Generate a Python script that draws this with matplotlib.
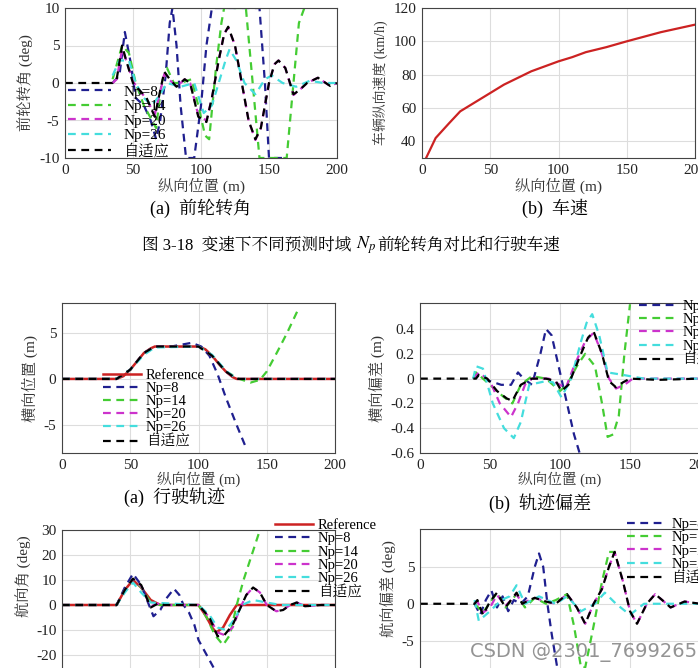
import matplotlib
matplotlib.use("Agg")
import matplotlib.pyplot as plt

plt.rcParams['font.family'] = ['Liberation Serif', 'Noto Serif CJK JP']
plt.rcParams['axes.unicode_minus'] = False
plt.rcParams['mathtext.fontset'] = 'stix'

W, H = 698, 668
labels = ['Np=8', 'Np=14', 'Np=20', 'Np=26', '自适应']
colors = ['#1f1f8f', '#44cc33', '#cc33cc', '#44dddd', '#000000']
ref_color = '#cc2222'

# ---- Panel 1: front wheel angle (deg)
p1_x8 = [35, 40, 44, 48, 52, 58, 63, 67, 70, 74, 77, 79, 82, 85, 89, 95, 100, 104, 108, 143, 147, 150, 163]
p1_y8 = [0, 1, 6.8, 3, -2, -3, -5, -7.5, -5, 1, 8, 10, 5, -3, -10, -10, -3, 5, 10, 10, 0, -10, -10]
p1_x14 = [35, 42, 47, 52, 58, 64, 67, 71, 75, 80, 85, 93, 98, 103, 106, 111, 115, 117, 133, 138, 143, 163, 168, 172, 176]
p1_y14 = [0.5, 5, 4, 0, -3, -5, -6, 0, 2, 0, 0, 0.5, -3, -7, -7.5, 2, 8, 10, 10, 0, -10, -10, 0, 8, 10]
p1_xa = [0, 35, 38, 42, 45, 50, 55, 60, 66, 70, 73, 77, 82, 88, 92, 98, 104, 108, 113, 117, 120, 125, 130, 135, 140, 144, 150, 154, 157, 162, 168, 172, 178, 186, 195, 200]
p1_ya = [0, 0, 0.5, 5, 3, 0, -1, -2, -4.5, -1, 1.5, 0.5, -0.5, 0.5, 0, -4.5, -5.2, -2, 3, 6.5, 7.5, 5, 0, -5, -7.5, -6, 0, 2.5, 3, 2, -1.5, -1, 0, 0.7, -0.4, 0]
p1_x20 = p1_xa[1:]
p1_y20 = [0, 0.5, 4.5, 3, 0.2, -1, -2.2, -4.2, -1.2, 1.2, 0.4, -0.5, 0.5, 0, -4.3, -5, -2, 3, 6.6, 7.4, 5, 0, -5, -7.6, -6, 0, 2.5, 3, 2, -1.6, -1, 0, 0.7, -0.4, 0]
p1_x26 = [35, 40, 47, 52, 58, 64, 70, 75, 85, 95, 102, 108, 113, 118, 121, 126, 132, 140, 147, 152, 160, 170, 180, 190, 200]
p1_y26 = [1, 3, 3, 0, -2, -3, -1.5, 0, -0.5, 0, -4, -3, 0, 3, 4.5, 3, 0, -1.5, 0.5, 1, 0, -0.5, 0.3, 0, 0]

# ---- Panel 2: speed (km/h)
p2_x = [3, 10, 20, 28, 40, 50, 60, 80, 100, 110, 120, 135, 150, 175, 200]
p2_y = [30, 42, 51, 58, 64, 69, 74, 82, 88, 90.5, 93.5, 96.5, 100, 105.5, 110]

# ---- Panel 3: lateral position (m)
p3_xr = [0, 40, 45, 50, 55, 60, 65, 68, 100, 105, 110, 115, 120, 125, 128, 200]
p3_yr = [0, 0, 0.3, 1.0, 1.9, 2.8, 3.3, 3.5, 3.5, 3.2, 2.5, 1.6, 0.8, 0.2, 0, 0]
p3_x8 = [0, 40, 50, 60, 68, 80, 95, 102, 108, 114, 120, 128, 135]
p3_y8 = [0, 0, 1.0, 2.8, 3.5, 3.5, 3.9, 3.5, 2.5, 0.5, -2, -5, -7.5]
p3_x14 = [0, 40, 50, 60, 68, 100, 110, 120, 130, 138, 145, 150, 158, 165, 173]
p3_y14 = [0, 0, 1.0, 2.8, 3.5, 3.5, 2.5, 0.8, 0, -0.4, -0.1, 0.8, 3, 5, 7.5]
p3_x20 = [0, 40, 50, 60, 68, 100, 110, 120, 128, 200]
p3_y20 = [0, 0, 1.0, 2.8, 3.5, 3.5, 2.5, 0.8, 0, 0]
p3_x26 = p3_x20
p3_y26 = [0, 0, 1.0, 2.6, 3.4, 3.5, 2.6, 0.9, 0, 0]
p3_xa = p3_x20
p3_ya = [0, 0, 1.0, 2.8, 3.5, 3.5, 2.5, 0.8, 0, 0]

# ---- Panel 4: lateral error (m)
p4_x8 = [38, 40, 50, 58, 65, 70, 74, 80, 86, 90, 94, 100, 105, 110, 114]
p4_y8 = [0, 0.03, -0.02, -0.05, -0.05, 0.05, 0, -0.05, 0.2, 0.4, 0.35, 0.05, -0.2, -0.45, -0.6]
p4_x14 = [38, 40, 50, 60, 66, 72, 80, 90, 100, 105, 112, 118, 125, 130, 134, 138, 142, 146, 150]
p4_y14 = [0, 0.05, -0.05, -0.15, -0.2, -0.05, 0.02, 0, -0.1, -0.05, 0.1, 0.2, 0.1, -0.2, -0.47, -0.45, -0.3, 0.2, 0.6]
p4_x20 = [38, 42, 50, 57, 65, 70, 75, 80, 92, 100, 104, 110, 118, 124, 130, 135, 140, 146, 152, 200]
p4_y20 = [0, 0.05, -0.02, -0.2, -0.31, -0.2, -0.05, 0, 0, -0.05, -0.08, 0.1, 0.3, 0.37, 0.2, 0, -0.08, -0.05, 0, 0]
p4_x26 = [38, 40, 45, 52, 60, 67, 72, 78, 90, 95, 101, 108, 115, 119, 123, 128, 134, 145, 160, 200]
p4_y26 = [0, 0.1, 0.08, -0.2, -0.4, -0.48, -0.35, -0.05, -0.02, -0.03, -0.15, 0, 0.3, 0.45, 0.52, 0.35, 0.05, 0.03, 0, 0]
p4_xa = [0, 40, 42, 48, 55, 62, 66, 72, 80, 90, 97, 101, 106, 115, 120, 124, 130, 135, 140, 145, 150, 170, 200]
p4_ya = [0, 0, 0.03, 0, -0.1, -0.16, -0.18, -0.05, 0, 0, -0.02, -0.1, -0.05, 0.2, 0.33, 0.38, 0.2, -0.02, -0.07, -0.03, 0, -0.01, 0]

# ---- Panel 5: heading angle (deg)
p5_xr = [0, 40, 46, 52, 58, 65, 72, 100, 105, 110, 113, 118, 123, 128, 200]
p5_yr = [0, 0, 6, 10, 7, 2, 0, 0, -4, -9, -11, -9, -4, 0, 0]
p5_x8 = [0, 40, 46, 52, 58, 63, 67, 72, 77, 82, 86, 89, 93, 97, 100, 104, 108, 111]
p5_y8 = [0, 0, 7, 12.5, 8, 1, -4.5, -2, 3, 6.5, 4, 0, -3, -8, -14, -18, -22, -25]
p5_x14 = [0, 40, 46, 52, 58, 65, 72, 100, 106, 112, 118, 123, 128, 133, 139, 145]
p5_y14 = [0, 0, 6, 10.5, 7, 1, 0, 0, -5, -12, -16, -12, 0, 10, 20, 30]
p5_x20 = [0, 40, 46, 52, 58, 65, 70, 75, 100, 108, 114, 119, 125, 130, 135, 140, 145, 150, 157, 162, 167, 172, 178, 190, 200]
p5_y20 = [0, 0, 6, 10.5, 7.5, -0.5, 0.5, 0, 0, -5, -11, -12, -9, -2, 4, 7, 5, 0, -2.5, -2, 0, 1, -0.5, 0, 0]
p5_x26 = [0, 40, 46, 52, 58, 65, 100, 108, 114, 120, 126, 132, 140, 150, 160, 200]
p5_y26 = [0, 0, 5, 9, 5, 1, 0, -4, -9, -10, -6, 0, 2, 1, 0, 0]
p5_xa = p5_x20
p5_ya = [0, 0, 6, 10.5, 8, -1, 0.5, 0, 0, -5, -12.5, -12, -8, -2, 4, 7, 5, 0, -2.5, -2, 0, 1, -0.5, 0, 0]

# ---- Panel 6: heading error (deg)
p6_x8 = [39, 43, 47, 51, 55, 59, 63, 67, 72, 77, 82, 85, 88, 91, 94, 98]
p6_y8 = [0, -1.5, 0.5, 1.8, -0.5, 1, -1, 0.5, 0, 1, 5, 6.8, 5, 0, -4, -8.6]
p6_x14 = [39, 45, 55, 61, 69, 75, 82, 90, 97, 105, 110, 115, 118, 124, 130, 135, 140]
p6_y14 = [0, -1.2, 1.5, -0.5, 1.3, -0.5, 0.8, 0, 0.5, 1.3, -3, -8.6, -8.6, -3, 3, 7, 7]
p6_xa = [0, 39, 41, 45, 50, 55, 61, 65, 69, 73, 78, 82, 90, 97, 105, 112, 118, 124, 130, 135, 139, 145, 150, 155, 162, 168, 173, 179, 189, 200]
p6_ya = [0, 0, 0.5, -1.5, 0.3, 1.5, -0.5, 0.5, 1.5, 0, 0.5, 0.8, 0.3, 0, 1.3, -0.5, -2.7, 0, 2, 5, 7, 3, -1, -2.7, 0, 1.3, 0.5, -0.5, 0.3, 0]
p6_x20 = p6_xa[1:]
p6_y20 = [0, 0.3, -1.2, -0.5, 1.2, -0.3, 0.5, 1.3, 0, 0.5, 0.8, 0.3, 0, 1.3, -0.5, -2.7, 0, 2, 5, 7, 3, -1, -2.7, 0, 1.3, 0.5, -0.5, 0.3, 0]
p6_x26 = [39, 42, 50, 58, 64, 69, 75, 85, 97, 105, 115, 125, 132, 140, 150, 160, 175, 200]
p6_y26 = [0.5, -2.3, -1, 0.5, 1, 2.5, 0, 1, 0, 1, -1, 0, 1.5, 0, -1.5, 0, 0, 0]

fig = plt.figure(figsize=(W / 100, H / 100), dpi=100)


def mkax(x0, y0, x1, y1):
    ax = fig.add_axes([x0 / W, 1 - y1 / H, (x1 - x0) / W, (y1 - y0) / H])
    ax.grid(True, color='#dddddd', lw=0.8)
    ax.set_axisbelow(True)
    for s in ax.spines.values():
        s.set_color('#444444')
        s.set_linewidth(0.8)
    ax.tick_params(labelsize=11, length=0, pad=4, colors='#222222')
    ax.set_xlim(0, 200)
    ax.set_xticks([0, 50, 100, 150, 200])
    return ax


def ftext(x, y, s, size=12, ha='center', **kw):
    fig.text(x / W, 1 - y / H, s, fontsize=size, ha=ha, va='center', **kw)


dash = (0, (3.5, 2.5))

# Panel 1
ax1 = mkax(65, 8, 337, 158)
series = [(p1_x8, p1_y8), (p1_x14, p1_y14), (p1_x20, p1_y20), (p1_x26, p1_y26), (p1_xa, p1_ya)]
for (xs, ys), c, l in zip(series, colors, labels):
    ax1.plot(xs, ys, color=c, ls=dash, lw=1.6, label=l)
ax1.set_ylim(-10, 10)
ax1.set_yticks([-10, -5, 0, 5, 10])
ax1.set_ylabel('前轮转角 (deg)', fontsize=11, color='#333333')
ax1.set_xlabel('纵向位置 (m)', fontsize=11, color='#333333', labelpad=1)
ax1.legend(loc='lower left', bbox_to_anchor=(-0.01, -0.04), frameon=False, fontsize=11,
           handlelength=2.8, labelspacing=0.05, borderaxespad=0)
ftext(200, 208, '(a)  前轮转角', 13)

# Panel 2
ax2 = mkax(422, 8, 695, 158)
ax2.plot(p2_x, p2_y, color=ref_color, lw=1.6)
ax2.set_ylim(30, 120)
ax2.set_yticks([40, 60, 80, 100, 120])
ax2.set_ylabel('车辆纵向速度 (km/h)', fontsize=10, color='#333333')
ax2.set_xlabel('纵向位置 (m)', fontsize=11, color='#333333', labelpad=1)
ftext(555, 208, '(b)  车速', 13)

ftext(355, 245, '图 3-18  变速下不同预测时域 ', 12, ha='right')
ftext(356, 245, '$N_p$', 13, ha='left')
ftext(377, 245, '前轮转角对比和行驶车速', 12, ha='left')

# Panel 3
ax3 = mkax(62, 303, 335, 453)
ax3.plot(p3_xr, p3_yr, color=ref_color, lw=1.8, label='Reference')
series = [(p3_x8, p3_y8), (p3_x14, p3_y14), (p3_x20, p3_y20), (p3_x26, p3_y26), (p3_xa, p3_ya)]
for (xs, ys), c, l in zip(series, colors, labels):
    ax3.plot(xs, ys, color=c, ls=dash, lw=1.6, label=l)
ax3.set_ylim(-8, 8.2)
ax3.set_yticks([-5, 0, 5])
ax3.set_ylabel('横向位置 (m)', fontsize=11, color='#333333')
ax3.set_xlabel('纵向位置 (m)', fontsize=10.5, color='#333333', labelpad=0)
ax3.legend(loc='lower left', bbox_to_anchor=(0.13, -0.01), frameon=False, fontsize=10.5,
           handlelength=2.6, labelspacing=0.0, borderaxespad=0, handletextpad=0.3)
ftext(175, 497, '(a)  行驶轨迹', 13)

# Panel 4
ax4 = mkax(420, 303, 700, 453)
series = [(p4_x8, p4_y8), (p4_x14, p4_y14), (p4_x20, p4_y20), (p4_x26, p4_y26), (p4_xa, p4_ya)]
for (xs, ys), c, l in zip(series, colors, labels):
    ax4.plot(xs, ys, color=c, ls=dash, lw=1.6, label=l)
ax4.set_ylim(-0.6, 0.61)
ax4.set_yticks([-0.6, -0.4, -0.2, 0, 0.2, 0.4])
ax4.set_yticklabels(['-0.6', '-0.4', '-0.2', '0', '0.2', '0.4'])
ax4.set_ylabel('横向偏差 (m)', fontsize=11, color='#333333')
ax4.set_xlabel('纵向位置 (m)', fontsize=10.5, color='#333333', labelpad=0)
ax4.legend(loc='upper left', bbox_to_anchor=(0.76, 1.06), frameon=False, fontsize=10.5,
           handlelength=2.6, labelspacing=0.0, borderaxespad=0, handletextpad=0.4)
ftext(540, 503, '(b)  轨迹偏差', 13)

# Panel 5
ax5 = mkax(62, 530, 335, 740)
ax5.plot(p5_xr, p5_yr, color=ref_color, lw=1.8, label='Reference')
series = [(p5_x8, p5_y8), (p5_x14, p5_y14), (p5_x20, p5_y20), (p5_x26, p5_y26), (p5_xa, p5_ya)]
for (xs, ys), c, l in zip(series, colors, labels):
    ax5.plot(xs, ys, color=c, ls=dash, lw=1.6, label=l)
ax5.set_ylim(-54, 30)
ax5.set_yticks([-20, -10, 0, 10, 20, 30])
ax5.set_ylabel('航向角 (deg)', fontsize=11, color='#333333', y=0.78)
ax5.legend(loc='upper left', bbox_to_anchor=(0.76, 1.08), frameon=False, fontsize=10.5,
           handlelength=2.6, labelspacing=0.0, borderaxespad=0, handletextpad=0.3)

# Panel 6
ax6 = mkax(420, 529, 700, 740)
series = [(p6_x8, p6_y8), (p6_x14, p6_y14), (p6_x20, p6_y20), (p6_x26, p6_y26), (p6_xa, p6_ya)]
for (xs, ys), c, l in zip(series, colors, labels):
    ax6.plot(xs, ys, color=c, ls=dash, lw=1.6, label=l)
ax6.set_ylim(-18.4, 10.1)
ax6.set_yticks([-5, 0, 5])
ax6.set_ylabel('航向偏差 (deg)', fontsize=11, color='#333333', y=0.72)
ax6.legend(loc='upper left', bbox_to_anchor=(0.72, 1.08), frameon=False, fontsize=10.5,
           handlelength=2.6, labelspacing=0.0, borderaxespad=0, handletextpad=0.4)

fig.text(470 / W, 1 - 652 / H, 'CSDN @2301_76992652', fontsize=14, color='#888888',
         ha='left', va='center', family='DejaVu Sans', alpha=0.9)

fig.savefig('out.png', dpi=100)
